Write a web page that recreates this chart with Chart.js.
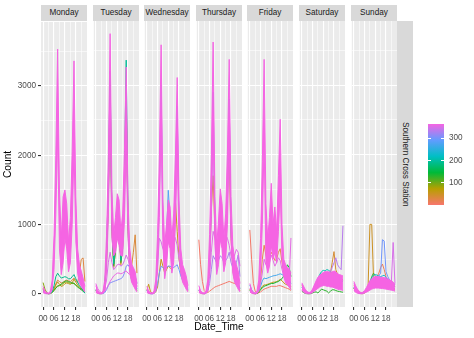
<!DOCTYPE html>
<html>
<head>
<meta charset="utf-8">
<script src="https://cdn.jsdelivr.net/npm/chart.js@4.4.1/dist/chart.umd.min.js"></script>
<style>
  body { margin: 0; background: #fff; font-family: "Liberation Sans", Arial, sans-serif; }
  #wrap { position: relative; width: 474px; height: 338px; overflow: hidden; background: #fff; }
  #wrap canvas, #wrap div { position: absolute; }
  .strip { background: #D9D9D9; color: #1A1A1A; font-size: 8.2px; text-align: center; line-height: 16px; white-space: nowrap; }
  .rstrip { background: #D9D9D9; color: #1A1A1A; font-size: 8.2px; display: flex; align-items: center; justify-content: center; }
  .rstrip span { writing-mode: vertical-rl; white-space: nowrap; }
  .title { font-size: 10.2px; color: #000; text-align: center; white-space: nowrap; }
  .legtxt { font-size: 8.2px; color: #4D4D4D; line-height: 10px; }
</style>
</head>
<body>
<div id="wrap"></div>
<script>
// hours of the day (x values)
const hours = [0, 1, 2, 3, 4, 5, 6, 7, 8, 9, 10, 11, 12, 13, 14, 15, 16, 17, 18, 19, 20, 21, 22, 23];
const weekdays = ['Monday', 'Tuesday', 'Wednesday', 'Thursday', 'Friday', 'Saturday', 'Sunday'];
const stationName = 'Southern Cross Station';

const xTickValues = [0, 6, 12, 18];
const xTickLabels = ['00', '06', '12', '18'];
const xMinorValues = [3, 9, 15, 21];
const yTickValues = [0, 1000, 2000, 3000];
const yTickLabels = ['0', '1000', '2000', '3000'];
const yMinorValues = [500, 1500, 2500, 3500];
const legendValues = [100, 200, 300];

// the bulk of days (pink band): lower and upper edge per hour
const mondayLow  = [20, 8, 3, 2, 8, 60, 350, 1150, 2300, 650, 280, 450, 800, 650, 320, 450, 1000, 2100, 750, 300, 160, 110, 70, 30];
const mondayHigh = [110, 45, 20, 15, 40, 200, 850, 2000, 3530, 1500, 800, 1400, 1500, 1300, 750, 1100, 2050, 3360, 1400, 650, 420, 330, 230, 110];
const mondayLines = [
  { day: 30,  counts: [60, 25, 10, 5, 8, 30, 80, 150, 200, 180, 160, 170, 190, 200, 190, 180, 200, 230, 200, 160, 300, 500, 520, 180] },
  { day: 64,  counts: [80, 40, 12, 5, 8, 30, 70, 130, 175, 140, 110, 120, 150, 160, 150, 140, 160, 215, 170, 130, 100, 80, 60, 40] },
  { day: 92,  counts: [165, 70, 20, 8, 8, 20, 50, 90, 120, 120, 130, 150, 170, 175, 165, 155, 150, 160, 130, 110, 90, 70, 50, 30] },
  { day: 127, counts: [60, 30, 12, 6, 8, 25, 50, 85, 110, 125, 145, 165, 185, 190, 180, 170, 160, 150, 125, 100, 80, 60, 40, 20] },
  { day: 190, counts: [40, 18, 8, 4, 6, 30, 120, 250, 300, 260, 230, 240, 250, 240, 220, 220, 250, 280, 220, 170, 120, 90, 50, 10] }
];

const tuesdayLow  = [20, 8, 3, 2, 8, 50, 330, 1100, 2500, 800, 550, 600, 800, 700, 550, 550, 1050, 2150, 800, 300, 170, 120, 70, 30];
const tuesdayHigh = [120, 50, 20, 15, 40, 200, 850, 1950, 3740, 1500, 850, 1100, 1440, 1350, 900, 1150, 2050, 3260, 1350, 650, 430, 380, 320, 150];
const tuesdayLines = [
  { day: 196, counts: [60, 20, 8, 5, 15, 100, 600, 1600, 3200, 1100, 430, 700, 1200, 1050, 480, 750, 1700, 3360, 1100, 450, 250, 200, 140, 70] },
  { day: 35,  counts: [50, 20, 8, 5, 15, 100, 500, 1400, 3000, 1000, 380, 650, 1150, 1000, 420, 700, 1600, 2900, 1000, 450, 400, 600, 850, 300] },
  { day: 120, counts: [40, 15, 5, 5, 12, 80, 450, 1300, 2800, 900, 400, 600, 1100, 950, 450, 650, 1500, 2800, 900, 350, 200, 150, 100, 50] },
  { day: 359, counts: [150, 80, 40, 20, 20, 40, 80, 130, 180, 220, 260, 280, 300, 300, 290, 300, 320, 330, 300, 280, 250, 220, 180, 120] },
  { day: 352, counts: [60, 30, 10, 5, 10, 60, 200, 450, 600, 450, 350, 380, 420, 430, 400, 420, 480, 560, 500, 400, 350, 300, 200, 100] },
  { day: 310, counts: [40, 20, 10, 5, 5, 20, 60, 120, 160, 170, 180, 190, 200, 210, 220, 240, 300, 400, 420, 380, 330, 300, 250, 150] }
];

const wednesdayLow  = [20, 8, 3, 2, 8, 50, 330, 1100, 2400, 700, 220, 400, 750, 650, 300, 450, 1000, 2000, 750, 300, 170, 120, 70, 30];
const wednesdayHigh = [110, 45, 20, 15, 40, 200, 850, 1950, 3580, 1350, 700, 1000, 1350, 1250, 800, 1150, 2000, 3110, 1350, 650, 420, 350, 260, 120];
const wednesdayLines = [
  { day: 280, counts: [50, 20, 8, 4, 10, 80, 500, 1400, 3000, 1000, 350, 800, 1490, 1100, 450, 800, 1600, 2700, 1000, 400, 220, 160, 120, 60] },
  { day: 55,  counts: [50, 140, 40, 10, 10, 30, 100, 300, 500, 400, 300, 350, 400, 380, 350, 600, 1340, 900, 500, 300, 200, 150, 100, 50] },
  { day: 350, counts: [40, 15, 5, 5, 10, 80, 400, 800, 750, 650, 600, 700, 750, 800, 800, 850, 800, 700, 500, 350, 250, 200, 150, 80] },
  { day: 300, counts: [40, 15, 6, 3, 8, 40, 150, 300, 400, 380, 350, 380, 400, 400, 380, 380, 400, 420, 350, 260, 200, 160, 130, 100] }
];

const thursdayLow  = [20, 8, 3, 2, 8, 50, 330, 1100, 2400, 700, 280, 420, 780, 650, 320, 450, 1000, 2100, 750, 300, 170, 120, 70, 30];
const thursdayHigh = [120, 45, 20, 15, 40, 200, 850, 1950, 3620, 1400, 700, 1050, 1510, 1300, 800, 1150, 2050, 3370, 1400, 700, 500, 420, 330, 150];
const thursdayLines = [
  { day: 4,   counts: [780, 420, 180, 50, 20, 20, 40, 60, 80, 100, 110, 120, 130, 140, 150, 160, 170, 180, 170, 160, 150, 140, 120, 80] },
  { day: 355, counts: [60, 25, 10, 5, 10, 60, 250, 600, 900, 800, 700, 800, 950, 900, 800, 850, 800, 700, 550, 500, 560, 640, 600, 400] },
  { day: 330, counts: [50, 20, 10, 5, 10, 40, 150, 350, 550, 500, 450, 480, 550, 520, 450, 480, 520, 600, 450, 380, 350, 450, 560, 250] },
  { day: 45,  counts: [40, 15, 5, 4, 10, 70, 450, 1200, 1700, 900, 400, 600, 1000, 850, 400, 650, 1400, 2000, 800, 350, 200, 150, 100, 50] },
  { day: 250, counts: [50, 20, 8, 4, 10, 60, 400, 1300, 2900, 1000, 350, 700, 1250, 1000, 400, 700, 1500, 2800, 900, 400, 250, 200, 150, 80] }
];

const fridayLow  = [30, 10, 3, 2, 8, 50, 300, 1000, 2200, 450, 300, 400, 700, 500, 600, 450, 900, 1500, 500, 250, 160, 130, 100, 60];
const fridayHigh = [150, 60, 25, 15, 40, 200, 800, 1900, 3370, 1300, 800, 1100, 1590, 1000, 1250, 900, 1700, 2510, 1000, 500, 420, 380, 350, 300];
const fridayLines = [
  { day: 5,   counts: [920, 500, 150, 40, 15, 15, 30, 50, 70, 80, 90, 100, 110, 110, 110, 110, 120, 120, 110, 100, 90, 80, 70, 50] },
  { day: 270, counts: [130, 60, 20, 8, 10, 40, 110, 190, 230, 220, 230, 240, 250, 260, 265, 270, 280, 290, 280, 260, 240, 230, 210, 150] },
  { day: 60,  counts: [60, 25, 8, 4, 8, 30, 70, 110, 130, 130, 140, 150, 160, 170, 170, 180, 190, 210, 190, 160, 140, 130, 110, 70] },
  { day: 140, counts: [50, 20, 8, 4, 8, 30, 60, 90, 110, 120, 130, 140, 150, 150, 160, 170, 180, 200, 220, 260, 330, 420, 380, 250] },
  { day: 357, counts: [80, 30, 10, 5, 10, 50, 150, 300, 500, 420, 380, 450, 560, 480, 400, 450, 520, 480, 350, 250, 200, 180, 200, 805] },
  { day: 20,  counts: [70, 30, 10, 5, 8, 40, 200, 500, 700, 560, 450, 500, 600, 550, 480, 500, 600, 650, 450, 300, 220, 180, 150, 100] }
];

const saturdayLow  = [60, 25, 10, 5, 3, 8, 20, 40, 60, 80, 100, 110, 120, 120, 110, 110, 100, 100, 90, 80, 70, 60, 60, 50];
const saturdayHigh = [160, 110, 60, 35, 20, 30, 70, 130, 190, 240, 270, 290, 310, 320, 320, 320, 310, 320, 330, 320, 290, 280, 270, 260];
const saturdayLines = [
  { day: 130, counts: [40, 20, 8, 4, 3, 5, 15, 25, 30, 15, 40, 70, 60, 50, 40, 15, 40, 60, 60, 50, 40, 35, 30, 25] },
  { day: 210, counts: [100, 60, 30, 15, 10, 15, 40, 90, 150, 220, 280, 320, 340, 330, 350, 340, 320, 300, 280, 260, 240, 220, 200, 180] },
  { day: 40,  counts: [120, 80, 40, 20, 10, 10, 30, 60, 100, 150, 180, 200, 220, 230, 240, 260, 300, 450, 609, 350, 280, 250, 230, 200] },
  { day: 335, counts: [140, 90, 50, 30, 15, 20, 50, 100, 150, 200, 230, 250, 270, 280, 300, 300, 320, 380, 450, 520, 420, 380, 350, 980] }
];

const sundayLow  = [50, 25, 10, 5, 3, 5, 15, 25, 40, 55, 70, 80, 85, 85, 85, 80, 80, 75, 70, 65, 60, 55, 50, 40];
const sundayHigh = [180, 120, 70, 40, 20, 25, 50, 90, 140, 190, 220, 240, 250, 250, 250, 240, 240, 230, 220, 210, 200, 190, 170, 140];
const sundayLines = [
  { day: 50,  counts: [80, 50, 25, 10, 5, 5, 15, 40, 120, 1000, 1000, 250, 200, 180, 170, 160, 150, 140, 130, 120, 100, 90, 80, 60] },
  { day: 300, counts: [100, 60, 30, 15, 8, 10, 25, 50, 90, 150, 200, 220, 230, 240, 260, 300, 780, 760, 320, 250, 200, 180, 160, 130] },
  { day: 350, counts: [150, 100, 50, 25, 10, 10, 25, 50, 80, 110, 150, 170, 180, 190, 200, 210, 220, 230, 240, 220, 200, 180, 740, 150] },
  { day: 15,  counts: [120, 80, 40, 20, 10, 10, 20, 40, 70, 110, 150, 200, 230, 250, 300, 380, 430, 350, 250, 200, 170, 160, 150, 100] },
  { day: 230, counts: [90, 60, 30, 15, 8, 10, 25, 50, 100, 180, 230, 270, 280, 270, 260, 250, 260, 270, 240, 200, 170, 150, 130, 100] },
  { day: 120, counts: [80, 50, 25, 12, 6, 8, 20, 40, 80, 150, 250, 300, 260, 230, 210, 200, 190, 180, 160, 140, 120, 100, 90, 70] }
];

const facetLow = [mondayLow, tuesdayLow, wednesdayLow, thursdayLow, fridayLow, saturdayLow, sundayLow];
const facetHigh = [mondayHigh, tuesdayHigh, wednesdayHigh, thursdayHigh, fridayHigh, saturdayHigh, sundayHigh];
const facetLines = [mondayLines, tuesdayLines, wednesdayLines, thursdayLines, fridayLines, saturdayLines, sundayLines];

// colour scale for the day number (1..365)
const colourStops = ['#F8766D', '#B79F00', '#00BA38', '#00BFC4', '#619CFF', '#F564E3'];
const dayMin = 1, dayMax = 365;
const bandDay = 365;

// layout (pixels)
const panelLefts = [41, 93, 144, 196, 247, 299, 351];
const panelWidth = 46;
const panelTop = 21;
const panelHeight = 286;
const font = '"Liberation Sans", Arial, sans-serif';

function hexToRgb(h) {
    return [1, 3, 5].map(i => parseInt(h.slice(i, i + 2), 16));
}

function dayColour(day) {
    const t = (day - dayMin) / (dayMax - dayMin) * (colourStops.length - 1);
    const i = Math.min(Math.floor(t), colourStops.length - 2);
    const f = t - i;
    const a = hexToRgb(colourStops[i]);
    const b = hexToRgb(colourStops[i + 1]);
    const c = a.map((v, k) => Math.round(v + (b[k] - v) * f));
    return `rgb(${c[0]}, ${c[1]}, ${c[2]})`;
}

function toPoints(counts) {
    return hours.map((h, i) => ({ x: h, y: counts[i] }));
}

const panelBackground = {
    id: 'panelBackground',
    beforeDraw(chart) {
        const { ctx, chartArea: a } = chart;
        ctx.save();
        ctx.fillStyle = '#EBEBEB';
        ctx.fillRect(a.left, a.top, a.right - a.left, a.bottom - a.top);
        ctx.restore();
    }
};

const wrap = document.getElementById('wrap');

function addDiv(cls, css, text) {
    const d = document.createElement('div');
    d.className = cls;
    Object.assign(d.style, css);
    if (text !== undefined) d.textContent = text;
    wrap.appendChild(d);
    return d;
}

const xGrid = [...xTickValues, ...xMinorValues].sort((a, b) => a - b);
const yGrid = [...yTickValues, ...yMinorValues].sort((a, b) => a - b);

weekdays.forEach((name, i) => {
    const left = panelLefts[i];
    const first = i === 0;

    addDiv('strip', { left: left + 'px', top: '5px', width: panelWidth + 'px', height: '16px' }, name);

    const canvas = document.createElement('canvas');
    const cLeft = first ? 0 : left - 6;
    const cWidth = first ? left + panelWidth + 6 : panelWidth + 12;
    const cHeight = 308;
    canvas.width = cWidth;
    canvas.height = cHeight;
    Object.assign(canvas.style, { left: cLeft + 'px', top: (panelTop - 6) + 'px', width: cWidth + 'px', height: cHeight + 'px' });
    wrap.appendChild(canvas);

    const bandColour = dayColour(bandDay);
    const datasets = [
        { data: toPoints(facetLow[i]), borderColor: bandColour, fill: false, order: 0 },
        { data: toPoints(facetHigh[i]), borderColor: bandColour, backgroundColor: bandColour, fill: '-1', order: 0 }
    ];
    facetLines[i].forEach(line => {
        datasets.push({ data: toPoints(line.counts), borderColor: dayColour(line.day), fill: false, order: 366 - line.day });
    });

    new Chart(canvas, {
        type: 'line',
        data: { datasets: datasets },
        plugins: [panelBackground],
        options: {
            responsive: false,
            animation: false,
            devicePixelRatio: 1,
            layout: { padding: { left: first ? 0 : 6, right: 6, top: 6, bottom: 0 } },
            elements: {
                point: { radius: 0 },
                line: { borderWidth: 1, tension: 0 }
            },
            plugins: { legend: { display: false }, tooltip: { enabled: false } },
            scales: {
                x: {
                    type: 'linear',
                    min: -1.15,
                    max: 24.15,
                    afterBuildTicks: scale => { scale.ticks = xGrid.map(v => ({ value: v })); },
                    afterFit: scale => { scale.height = cHeight - 6 - panelHeight; },
                    border: { display: false },
                    grid: {
                        color: '#FFFFFF',
                        lineWidth: ctx => xTickValues.includes(ctx.tick.value) ? 1.1 : 0.55,
                        tickColor: ctx => xTickValues.includes(ctx.tick.value) ? '#333333' : 'rgba(0,0,0,0)',
                        tickLength: 3
                    },
                    ticks: {
                        autoSkip: false,
                        maxRotation: 0,
                        padding: 4,
                        color: '#4D4D4D',
                        font: { family: font, size: 8.2 },
                        callback: value => {
                            const k = xTickValues.indexOf(value);
                            return k >= 0 ? xTickLabels[k] : '';
                        }
                    }
                },
                y: {
                    type: 'linear',
                    min: -187,
                    max: 3922,
                    afterBuildTicks: scale => { scale.ticks = yGrid.map(v => ({ value: v })); },
                    afterFit: scale => { scale.width = first ? left : 0; },
                    border: { display: false },
                    title: {
                        display: first,
                        text: 'Count',
                        color: '#000000',
                        font: { family: font, size: 10.2 },
                        padding: { top: 2, bottom: 0 }
                    },
                    grid: {
                        color: '#FFFFFF',
                        lineWidth: ctx => yTickValues.includes(ctx.tick.value) ? 1.1 : 0.55,
                        tickColor: ctx => yTickValues.includes(ctx.tick.value) ? '#333333' : 'rgba(0,0,0,0)',
                        tickLength: 3,
                        drawTicks: first
                    },
                    ticks: {
                        display: first,
                        padding: 2,
                        color: '#4D4D4D',
                        font: { family: font, size: 8.2 },
                        callback: value => {
                            const k = yTickValues.indexOf(value);
                            return k >= 0 ? yTickLabels[k] : '';
                        }
                    }
                }
            }
        }
    });
});

// facet strip on the right
const rs = addDiv('rstrip', { left: '397px', top: panelTop + 'px', width: '16px', height: panelHeight + 'px' });
const rsText = document.createElement('span');
rsText.textContent = stationName;
rs.appendChild(rsText);

// x axis title
addDiv('title', { left: '169px', top: '321px', width: '100px', lineHeight: '12px' }, 'Date_Time');

// colour bar legend
const barLeft = 428, barTop = 124, barWidth = 16, barHeight = 81;
const stops = colourStops.map((c, k) => `${c} ${(k / (colourStops.length - 1) * 100).toFixed(0)}%`).join(', ');
addDiv('', { left: barLeft + 'px', top: barTop + 'px', width: barWidth + 'px', height: barHeight + 'px', background: `linear-gradient(to top, ${stops})` });
legendValues.forEach(v => {
    const y = barTop + (1 - (v - dayMin) / (dayMax - dayMin)) * barHeight;
    addDiv('', { left: barLeft + 'px', top: (y - 0.5) + 'px', width: '3px', height: '1px', background: '#FFFFFF' });
    addDiv('', { left: (barLeft + barWidth - 3) + 'px', top: (y - 0.5) + 'px', width: '3px', height: '1px', background: '#FFFFFF' });
    addDiv('legtxt', { left: (barLeft + barWidth + 5) + 'px', top: (y - 5) + 'px' }, String(v));
});
</script>
</body>
</html>
